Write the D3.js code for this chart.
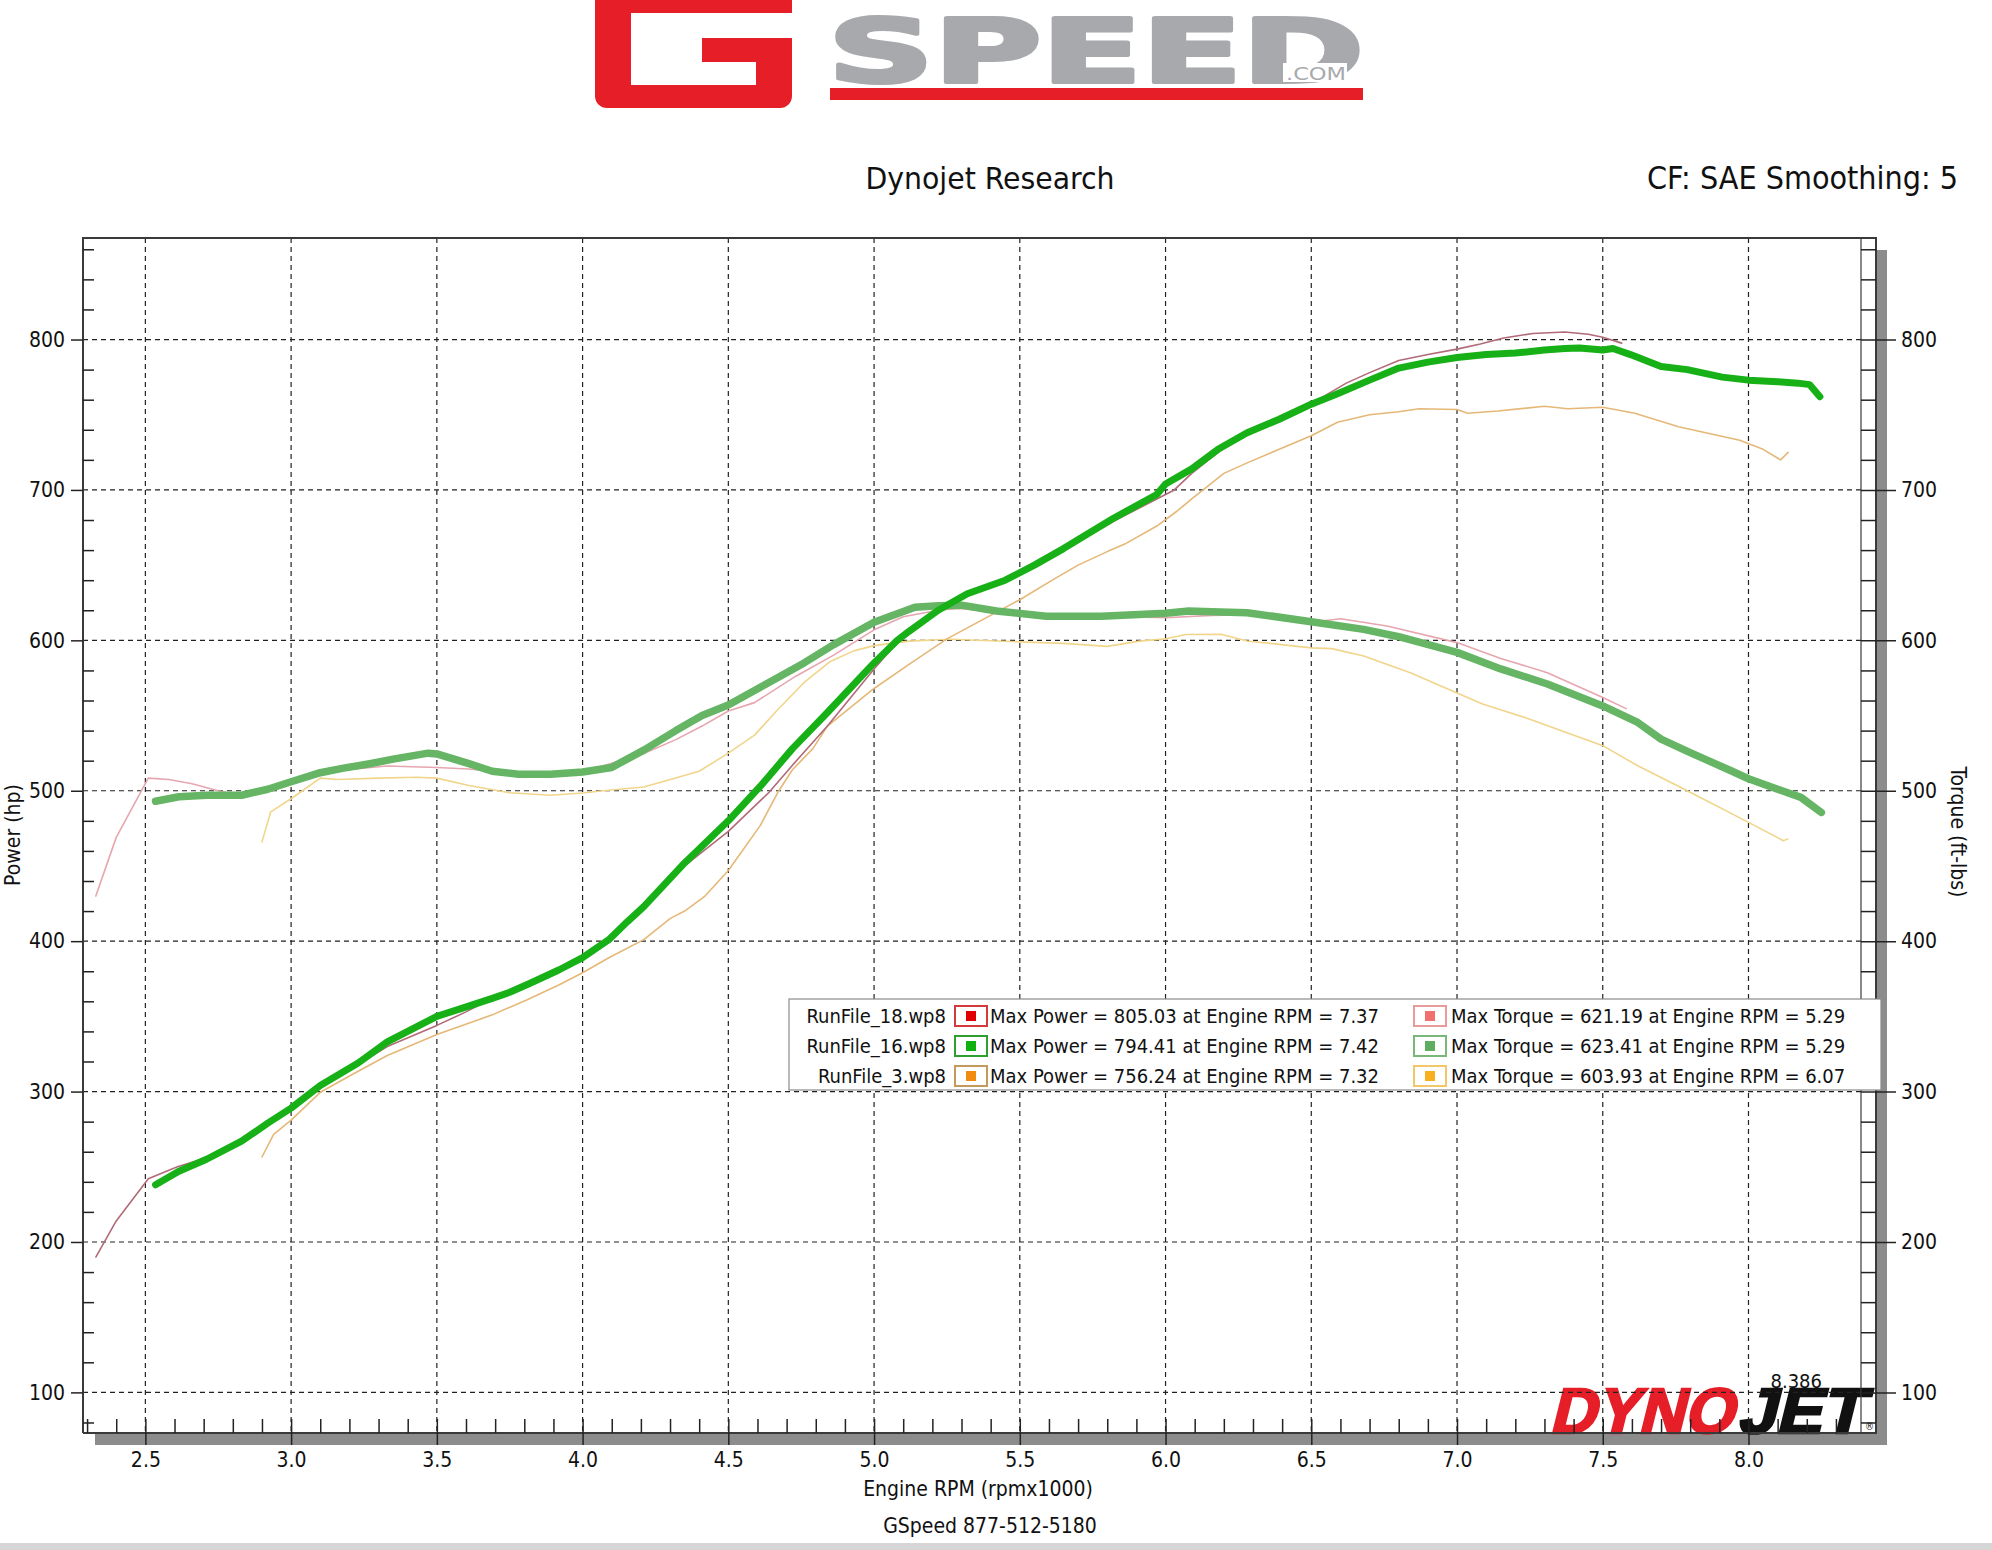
<!DOCTYPE html>
<html>
<head>
<meta charset="utf-8">
<script src="https://cdn.jsdelivr.net/npm/d3@7"></script>
<style>
  body { margin: 0; background: #fff; }
  svg { display: block; }
  text { font-family: "DejaVu Sans Condensed", "DejaVu Sans", sans-serif; font-stretch: condensed; fill: #111; }
</style>
</head>
<body>
<svg id="chart" width="1992" height="1550"></svg>
<script>
  /*
   * Data: [rpm x1000, value]
   */

  // RunFile_18 (red / pink)
  var POWER_18 = [
    [2.33,190],[2.40,214],[2.51,242],[2.61,250],[2.71,256],[2.83,267],[2.92,279],[3.0,289],
    [3.10,303],[3.23,318],[3.33,330],[3.5,344],[3.6,353],[3.69,362],[3.8,371],[3.92,381],
    [4.0,389],[4.09,402],[4.21,422],[4.35,450],[4.5,473],[4.64,499],[4.72,517],[4.84,543],
    [5.0,581],[5.1,603],[5.25,622],[5.32,630],[5.45,640],[5.55,650],[5.65,660],[5.82,679],
    [5.97,694],[6.03,700],[6.09,711],[6.18,725],[6.28,737],[6.39,747],[6.5,757],[6.55,763],
    [6.62,771],[6.70,778],[6.80,786],[6.9,790],[7.0,793.6],[7.08,797],[7.16,801],[7.26,804],
    [7.37,805],[7.45,803.5],[7.5,801.5],[7.565,797.6]
  ];
  var TORQUE_18 = [
    [2.33,430],[2.40,469],[2.51,508.4],[2.58,507.5],[2.66,504.6],[2.75,500],[2.80,498],[2.92,500],
    [3.0,505],[3.13,513],[3.33,516.5],[3.5,515.5],[3.61,514.5],[3.69,512.8],[3.78,510],[4.0,512.4],
    [4.21,524.7],[4.32,534],[4.41,543],[4.5,553],[4.59,558.6],[4.73,576],[4.86,590],[5.0,607],
    [5.10,615.7],[5.22,620],[5.29,621.2],[5.42,619],[5.59,616],[5.78,616],[6.0,615],[6.16,616.6],
    [6.28,617],[6.5,612],[6.60,614.4],[6.76,609.5],[7.0,598.5],[7.15,588],[7.31,578.5],[7.5,562],
    [7.58,554.6]
  ];

  // RunFile_16 (green)
  var POWER_16 = [
    [2.535,238],[2.615,247],[2.71,255],[2.83,267],[2.92,279],[3.0,289],[3.10,304],[3.23,319],
    [3.33,333],[3.41,341],[3.5,350],[3.58,355],[3.69,362],[3.75,366],[3.82,372],[3.92,381],
    [4.0,389],[4.09,401],[4.154,413],[4.21,423],[4.35,452],[4.5,480],[4.61,503],[4.72,528],
    [4.84,552],[5.0,585],[5.08,600],[5.12,606],[5.22,620],[5.32,631],[5.45,640],[5.55,650],
    [5.65,661],[5.82,681],[5.97,697],[6.0,704],[6.09,714],[6.18,727],[6.28,738],[6.39,747],
    [6.5,757],[6.59,764],[6.70,773],[6.80,781],[6.9,785],[7.0,788],[7.1,790],[7.2,791],
    [7.3,793],[7.37,794],[7.42,794.4],[7.5,793],[7.535,794],[7.595,790],[7.70,782],[7.79,780],
    [7.91,775],[8.0,773],[8.1,772],[8.17,771],[8.21,770],[8.245,762]
  ];
  var TORQUE_16 = [
    [2.535,493],[2.615,496],[2.71,497],[2.83,497],[2.92,501],[3.0,506],[3.10,512],[3.18,515],
    [3.27,518],[3.35,521],[3.47,525],[3.5,524.5],[3.61,518],[3.69,513],[3.78,511],[3.89,511],
    [4.0,512.5],[4.10,515.5],[4.21,527],[4.32,540],[4.41,550],[4.5,557],[4.63,571],[4.76,585],
    [4.86,597],[5.0,612],[5.14,622],[5.22,623],[5.30,623.4],[5.42,619.5],[5.59,616],[5.78,616],
    [6.0,618],[6.08,619.5],[6.16,619],[6.28,618.4],[6.5,612.4],[6.68,607.3],[6.80,602.4],[7.0,592],
    [7.15,581],[7.31,571],[7.5,556.4],[7.62,545.4],[7.70,534.3],[7.80,525.4],[7.94,513.3],[8.0,508],
    [8.10,501],[8.18,495.6],[8.25,485.6]
  ];

  // RunFile_3 (orange / yellow)
  var POWER_3 = [
    [2.90,256.5],[2.94,271.6],[3.0,281],[3.10,299.5],[3.23,313.5],[3.33,324],[3.5,338],[3.69,351],
    [3.81,361],[3.92,371],[4.0,379],[4.09,389],[4.21,401],[4.30,415],[4.35,420],[4.42,430],
    [4.5,447],[4.61,477],[4.67,499],[4.72,514],[4.79,528],[4.84,543],[5.0,568],[5.12,584],
    [5.25,601],[5.5,627],[5.62,641],[5.7,650],[5.8,659],[5.86,664],[5.97,676],[6.04,686],
    [6.09,694],[6.20,711],[6.28,718],[6.39,727],[6.5,736],[6.59,745],[6.70,750],[6.80,752],
    [6.87,754],[7.0,753.5],[7.036,751],[7.14,752.5],[7.30,755.6],[7.38,754],[7.5,755],[7.61,751],
    [7.76,742],[7.97,733],[8.05,727],[8.11,720],[8.136,725]
  ];
  var TORQUE_3 = [
    [2.90,466],[2.93,486],[3.0,494.7],[3.10,508.4],[3.16,507.5],[3.30,508.4],[3.43,509],[3.5,508.4],
    [3.61,503.5],[3.75,498.7],[3.89,497],[4.0,498.5],[4.07,500],[4.21,502.5],[4.31,508],[4.40,513],
    [4.5,525],[4.59,537],[4.67,554],[4.76,572],[4.85,586],[4.93,593],[5.0,596.5],[5.12,599.5],
    [5.26,600.7],[5.5,599],[5.65,598],[5.80,596],[5.91,599.5],[6.0,601],[6.07,603.9],[6.19,604],
    [6.28,599.6],[6.5,595],[6.57,594.5],[6.68,589.6],[6.84,578.5],[7.0,565],[7.09,557.5],[7.25,547.6],
    [7.5,530],[7.62,516.6],[7.78,501],[8.0,479],[8.12,466.8],[8.135,468]
  ];

  // Axes
  var X_DOMAIN = [2.286, 8.386];
  var Y_DOMAIN = [73, 867.5];
  var X_TICKS = [2.5, 3.0, 3.5, 4.0, 4.5, 5.0, 5.5, 6.0, 6.5, 7.0, 7.5, 8.0];
  var X_MINOR = d3.range(23, 84).map(function (d) { return d / 10; });
  var Y_TICKS = [100, 200, 300, 400, 500, 600, 700, 800];
  var Y_MINOR = d3.range(80, 861, 20).filter(function (d) { return d % 100 != 0; });

  // Legend rows
  var RUN_NAMES = ["RunFile_18.wp8", "RunFile_16.wp8", "RunFile_3.wp8"];
  var MAX_POWER = ["805.03", "794.41", "756.24"];
  var MAX_POWER_RPM = ["7.37", "7.42", "7.32"];
  var MAX_TORQUE = ["621.19", "623.41", "603.93"];
  var MAX_TORQUE_RPM = ["5.29", "5.29", "6.07"];

  /*
   * Layout (screen pixels)
   */
  var PLOT_L = 83, PLOT_R = 1861, PLOT_T = 238, PLOT_B = 1433;
  var FRAME_R = 1876;
  var RED = "#e61e28";

  var svg = d3.select("#chart");
  svg.append("rect").attr("width", 1992).attr("height", 1550).attr("fill", "#fff");

  var x = d3.scaleLinear().domain(X_DOMAIN).range([PLOT_L, PLOT_R]);
  var y = d3.scaleLinear().domain(Y_DOMAIN).range([PLOT_B, PLOT_T]);

  // GSpeed logo
  var logo = svg.append("g");
  logo.append("rect").attr("x", 595).attr("y", -12).attr("width", 197).attr("height", 120)
    .attr("rx", 12).attr("fill", RED);
  logo.append("rect").attr("x", 631).attr("y", 13).attr("width", 71).attr("height", 72).attr("fill", "#fff");
  logo.append("rect").attr("x", 631).attr("y", 13).attr("width", 161).attr("height", 25).attr("fill", "#fff");
  logo.append("rect").attr("x", 700).attr("y", 62).attr("width", 56).attr("height", 23).attr("fill", "#fff");
  logo.append("text").attr("x", 828).attr("y", 82)
    .attr("textLength", 536).attr("lengthAdjust", "spacingAndGlyphs")
    .style("font-family", "DejaVu Sans").style("font-stretch", "normal")
    .style("font-weight", "bold").style("font-size", "88px")
    .style("fill", "#a7a9ac").style("stroke", "#a7a9ac").style("stroke-width", 4)
    .style("stroke-linejoin", "round")
    .text("SPEED");
  logo.append("rect").attr("x", 1283).attr("y", 63).attr("width", 64).attr("height", 19).attr("fill", "#fff");
  logo.append("text").attr("x", 1286).attr("y", 80)
    .attr("textLength", 60).attr("lengthAdjust", "spacingAndGlyphs")
    .style("font-size", "18px").style("fill", "#a7a9ac").text(".COM");
  logo.append("rect").attr("x", 830).attr("y", 88).attr("width", 533).attr("height", 12).attr("fill", RED);

  // Titles
  svg.append("text").attr("x", 990).attr("y", 189).attr("text-anchor", "middle")
    .attr("textLength", 249).attr("lengthAdjust", "spacingAndGlyphs")
    .style("font-size", "31px").text("Dynojet Research");
  svg.append("text").attr("x", 1958).attr("y", 189).attr("text-anchor", "end")
    .attr("textLength", 311).attr("lengthAdjust", "spacingAndGlyphs")
    .style("font-size", "32px").text("CF: SAE Smoothing: 5");

  // Shadows around the frame
  svg.append("rect").attr("x", FRAME_R).attr("y", 250).attr("width", 11).attr("height", PLOT_B + 12 - 250)
    .attr("fill", "#8c8c8c");
  svg.append("rect").attr("x", 95).attr("y", PLOT_B).attr("width", FRAME_R + 11 - 95).attr("height", 12)
    .attr("fill", "#8c8c8c");

  // Dynojet logo (under the grid)
  function logo_text(sel, tx, len, color, word) {
    sel.append("text").attr("transform", "translate(" + tx + "," + PLOT_B + ") skewX(-14)")
      .attr("textLength", len).attr("lengthAdjust", "spacingAndGlyphs")
      .style("font-family", "'Liberation Sans', Arial, sans-serif").style("font-stretch", "normal")
      .style("font-weight", "bold").style("font-size", "64px")
      .style("fill", color).style("stroke", color).style("stroke-width", 2.5)
      .text(word);
  }
  var dj = svg.append("g");
  logo_text(dj, 1549, 184, RED, "DYNO");
  logo_text(dj, 1737, 126, "#111", "JET");
  dj.append("text").attr("x", 1865).attr("y", 1430)
    .style("font-family", "DejaVu Sans").style("font-size", "10px")
    .text("®");

  // Grid
  var grid = svg.append("g").attr("stroke", "#222").attr("stroke-width", 1.2).attr("stroke-dasharray", "5,4");
  grid.selectAll(".hg").data(Y_TICKS).enter().append("line")
    .attr("x1", PLOT_L).attr("x2", PLOT_R)
    .attr("y1", function (d) { return y(d); }).attr("y2", function (d) { return y(d); });
  grid.selectAll(".vg").data(X_TICKS).enter().append("line")
    .attr("y1", PLOT_T).attr("y2", PLOT_B)
    .attr("x1", function (d) { return x(d); }).attr("x2", function (d) { return x(d); });

  // Curves
  var line = d3.line()
    .x(function (d) { return x(d[0]); })
    .y(function (d) { return y(d[1]); });

  var SERIES = [
    { data: TORQUE_3, color: "#f0d58a", width: 1.6 },
    { data: POWER_3, color: "#e5b877", width: 1.6 },
    { data: TORQUE_18, color: "#e6a6b0", width: 1.6 },
    { data: POWER_18, color: "#b06a78", width: 1.6 },
    { data: TORQUE_16, color: "#65b565", width: 7.5 },
    { data: POWER_16, color: "#17b117", width: 7 }
  ];
  svg.append("g").selectAll("path").data(SERIES).enter().append("path")
    .attr("d", function (s) { return line(s.data); })
    .attr("fill", "none")
    .attr("stroke", function (s) { return s.color; })
    .attr("stroke-width", function (s) { return s.width; })
    .attr("stroke-linejoin", "round")
    .attr("stroke-linecap", "round");

  // Frame
  var frame = svg.append("g").attr("stroke", "#3a3a3a").attr("fill", "none");
  frame.append("path").attr("stroke-width", 2)
    .attr("d", "M" + PLOT_L + "," + PLOT_B + "V" + PLOT_T + "H" + FRAME_R + "V" + PLOT_B + "H" + PLOT_L);
  frame.append("line").attr("stroke-width", 1.2)
    .attr("x1", PLOT_R).attr("x2", PLOT_R).attr("y1", PLOT_T).attr("y2", PLOT_B);

  // Axes
  function style_axis(g, size) {
    g.select(".domain").remove();
    g.selectAll(".tick line").attr("stroke", "#222").attr("stroke-width", 1.5);
    g.selectAll(".tick text").style("font-size", size + "px").attr("fill", "#111");
  }

  svg.append("g").attr("transform", "translate(" + PLOT_L + ",0)")
    .call(d3.axisLeft(y).tickValues(Y_TICKS).tickSize(12).tickPadding(6).tickFormat(d3.format("d")))
    .call(style_axis, 21);
  svg.append("g").attr("transform", "translate(" + PLOT_L + ",0)")
    .call(d3.axisRight(y).tickValues(Y_MINOR).tickSize(11).tickFormat(""))
    .call(style_axis, 21);

  svg.append("g").attr("transform", "translate(" + PLOT_R + ",0)")
    .call(d3.axisRight(y).tickValues(Y_TICKS).tickSize(35).tickPadding(5).tickFormat(d3.format("d")))
    .call(style_axis, 21);
  svg.append("g").attr("transform", "translate(" + PLOT_R + ",0)")
    .call(d3.axisRight(y).tickValues(Y_MINOR).tickSize(15).tickFormat(""))
    .call(style_axis, 21);

  svg.append("g").attr("transform", "translate(0," + PLOT_B + ")")
    .call(d3.axisBottom(x).tickValues(X_TICKS).tickSize(12).tickPadding(7).tickFormat(d3.format(".1f")))
    .call(style_axis, 21);
  svg.append("g").attr("transform", "translate(0," + PLOT_B + ")")
    .call(d3.axisTop(x).tickValues(X_MINOR).tickSize(14).tickFormat(""))
    .call(style_axis, 21);

  svg.append("text").attr("x", 1822).attr("y", 1388).attr("text-anchor", "end")
    .style("font-size", "20px").text("8.386");

  // Axis titles
  svg.append("text").attr("transform", "translate(20,835) rotate(-90)").attr("text-anchor", "middle")
    .style("font-size", "21px").text("Power (hp)");
  svg.append("text").attr("transform", "translate(1951,832) rotate(90)").attr("text-anchor", "middle")
    .style("font-size", "21px").text("Torque (ft-lbs)");
  svg.append("text").attr("x", 978).attr("y", 1496).attr("text-anchor", "middle")
    .style("font-size", "21px").text("Engine RPM (rpmx1000)");
  svg.append("text").attr("x", 990).attr("y", 1533).attr("text-anchor", "middle")
    .style("font-size", "21px").text("GSpeed 877-512-5180");

  // Legend
  var POWER_SW = [["#d33a3a", "#e00000"], ["#2f9f2f", "#10b010"], ["#c49a5c", "#f08c10"]];
  var TORQUE_SW = [["#e99a9a", "#f07070"], ["#79b879", "#5fae5f"], ["#f0c868", "#f8b020"]];
  var legend = svg.append("g").attr("transform", "translate(789,999)");
  legend.append("rect").attr("width", 1092).attr("height", 91)
    .attr("fill", "#fff").attr("stroke", "#8a8a8a").attr("stroke-width", 1.2);
  var rows = legend.selectAll(".row").data(RUN_NAMES).enter().append("g")
    .attr("transform", function (d, i) { return "translate(0," + (17 + 30 * i) + ")"; });
  rows.append("text").attr("x", 157).attr("dy", "0.35em").attr("text-anchor", "end")
    .style("font-size", "20px").text(function (d) { return d; });
  function swatch(sel, x0, colors) {
    sel.append("rect").attr("x", x0).attr("y", -10).attr("width", 32).attr("height", 20)
      .attr("fill", "#fff").attr("stroke-width", 2)
      .attr("stroke", function (d, i) { return colors[i][0]; });
    sel.append("rect").attr("x", x0 + 11).attr("y", -5).attr("width", 10).attr("height", 10)
      .attr("fill", function (d, i) { return colors[i][1]; });
  }
  swatch(rows, 166, POWER_SW);
  swatch(rows, 625, TORQUE_SW);
  rows.append("text").attr("x", 201).attr("dy", "0.35em").style("font-size", "20px")
    .text(function (d, i) { return "Max Power = " + MAX_POWER[i] + " at Engine RPM = " + MAX_POWER_RPM[i]; });
  rows.append("text").attr("x", 662).attr("dy", "0.35em").style("font-size", "20px")
    .text(function (d, i) { return "Max Torque = " + MAX_TORQUE[i] + " at Engine RPM = " + MAX_TORQUE_RPM[i]; });

  // Bottom band
  svg.append("rect").attr("x", 0).attr("y", 1543).attr("width", 1992).attr("height", 7).attr("fill", "#d6d6d6");
</script>
</body>
</html>
